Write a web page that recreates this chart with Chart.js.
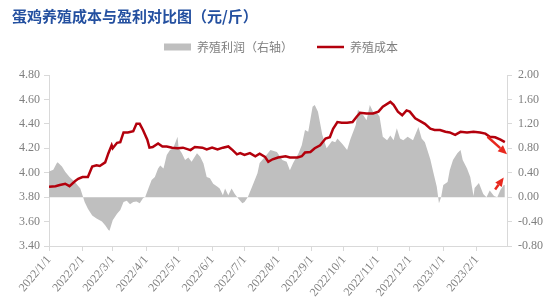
<!DOCTYPE html>
<html>
<head>
<meta charset="utf-8">
<script src="https://cdn.jsdelivr.net/npm/chart.js@4"></script>
<style>
  html, body { margin: 0; padding: 0; background: #fff; }
</style>
</head>
<body>
<canvas id="chart" width="550" height="308"></canvas>
<script>
// days counted from 2022/1/1
const tickDays = [0, 31, 59, 90, 120, 151, 181, 212, 243, 273, 304, 334, 365, 396];
const tickLabels = ["2022/1/1", "2022/2/1", "2022/3/1", "2022/4/1", "2022/5/1", "2022/6/1", "2022/7/1",
  "2022/8/1", "2022/9/1", "2022/10/1", "2022/11/1", "2022/12/1", "2023/1/1", "2023/2/1"];

const costDays = [0, 6, 10, 15, 19, 24, 27, 31, 36, 40, 44, 47, 52, 55, 58, 59, 63, 66, 69, 73, 78, 81, 84, 87,
  91, 93, 96, 101, 105, 109, 114, 119, 124, 131, 135, 142, 146, 151, 156, 161, 166, 170, 174, 177, 181, 186,
  191, 195, 200, 203, 207, 212, 219, 223, 230, 234, 237, 242, 246, 251, 256, 260, 263, 267, 271, 276, 281,
  285, 288, 294, 300, 305, 309, 316, 319, 323, 327, 331, 334, 339, 344, 348, 353, 357, 362, 367, 371, 376,
  381, 387, 393, 399, 404, 408, 413, 418, 422];
const costValues = [3.885, 3.89, 3.90, 3.91, 3.89, 3.93, 3.95, 3.965, 3.965, 4.05, 4.06, 4.055, 4.085, 4.16,
  4.225, 4.20, 4.245, 4.25, 4.33, 4.33, 4.34, 4.40, 4.40, 4.35, 4.27, 4.205, 4.21, 4.24, 4.215, 4.215, 4.205,
  4.20, 4.205, 4.185, 4.21, 4.205, 4.19, 4.205, 4.19, 4.205, 4.215, 4.185, 4.15, 4.16, 4.145, 4.16, 4.135,
  4.155, 4.13, 4.09, 4.11, 4.125, 4.135, 4.125, 4.125, 4.135, 4.165, 4.17, 4.20, 4.225, 4.28, 4.29, 4.36,
  4.415, 4.41, 4.41, 4.415, 4.46, 4.49, 4.485, 4.485, 4.50, 4.54, 4.58, 4.555, 4.50, 4.47, 4.51, 4.50, 4.445,
  4.42, 4.40, 4.36, 4.35, 4.35, 4.335, 4.33, 4.31, 4.335, 4.33, 4.335, 4.33, 4.32, 4.295, 4.29, 4.27, 4.25];

const profitDays = [0, 4, 7, 8, 12, 15, 19, 24, 29, 31, 33, 36, 40, 44, 49, 52, 55, 56, 59, 63, 66, 69, 72, 75,
  78, 81, 84, 87, 89, 92, 95, 98, 101, 103, 106, 109, 112, 115, 119, 120, 123, 126, 129, 132, 137, 140, 143,
  146, 149, 152, 156, 158, 161, 163, 166, 169, 172, 175, 179, 181, 184, 188, 193, 195, 200, 205, 211, 216,
  220, 223, 226, 231, 234, 237, 240, 244, 246, 249, 253, 257, 262, 265, 267, 272, 276, 279, 284, 286, 291,
  294, 297, 300, 304, 306, 309, 313, 316, 319, 322, 325, 328, 332, 337, 342, 345, 348, 353, 356, 359, 361,
  363, 365, 369, 371, 374, 378, 381, 383, 387, 390, 393, 394, 398, 402, 405, 408, 412, 415, 418, 421, 422];
const profitValues = [0.42, 0.45, 0.55, 0.57, 0.50, 0.415, 0.33, 0.25, 0.14, 0.03, -0.08, -0.19, -0.30, -0.35,
  -0.40, -0.46, -0.54, -0.55, -0.38, -0.27, -0.21, -0.08, -0.06, -0.115, -0.08, -0.07, -0.10, -0.02, 0.00,
  0.14, 0.28, 0.33, 0.47, 0.52, 0.47, 0.69, 0.77, 0.80, 0.99, 0.80, 0.72, 0.61, 0.65, 0.58, 0.72, 0.66, 0.55,
  0.33, 0.31, 0.22, 0.17, 0.14, 0.03, 0.14, 0.03, 0.14, 0.05, -0.02, -0.10, -0.08, 0.00, 0.17, 0.39, 0.56,
  0.66, 0.77, 0.74, 0.61, 0.58, 0.44, 0.56, 0.72, 0.85, 1.10, 1.07, 1.48, 1.51, 1.40, 1.02, 0.80, 0.92, 0.90,
  0.96, 0.86, 0.77, 0.95, 1.18, 1.43, 1.34, 1.26, 1.51, 1.40, 1.37, 1.32, 0.99, 0.93, 1.01, 0.93, 1.13, 0.96,
  0.93, 0.99, 0.93, 1.15, 0.96, 0.90, 0.62, 0.39, 0.17, -0.10, 0.00, 0.20, 0.25, 0.44, 0.61, 0.72, 0.77, 0.61,
  0.47, 0.33, 0.02, 0.15, 0.23, 0.05, 0.00, 0.11, 0.02, 0.00, 0.12, 0.20, 0.20];

// annotation arrows: [day, value] on the given axis
const arrows = [
  { axis: "y", from: [406, 4.294], to: [424, 4.152] },
  { axis: "y1", from: [413, 0.126], to: [421, 0.323] },
];

const GREY_TEXT = "#7f7f7f";
const AXIS_COLOR = "#d9d9d9";
const TICK_FONT = { family: "Liberation Serif", size: 12 };

const toPoints = (days, values) => days.map((d, i) => ({ x: d, y: values[i] }));
const fmt = (v) => (Math.abs(v) < 1e-9 ? 0 : v).toFixed(2);

// push the plot area down below the legend
const legendGap = {
  id: "legendGap",
  beforeInit(chart) {
    const fit = chart.legend.fit;
    chart.legend.fit = function () {
      fit.call(this);
      this.height += 12;
    };
  },
};

const arrowMarks = {
  id: "arrowMarks",
  afterDatasetsDraw(chart) {
    const { ctx, scales } = chart;
    ctx.save();
    ctx.strokeStyle = ctx.fillStyle = "#e8281e";
    ctx.lineWidth = 2.5;
    arrows.forEach((a) => {
      const ys = scales[a.axis];
      const x0 = scales.x.getPixelForValue(a.from[0]);
      const y0 = ys.getPixelForValue(a.from[1]);
      const x1 = scales.x.getPixelForValue(a.to[0]);
      const y1 = ys.getPixelForValue(a.to[1]);
      const ang = Math.atan2(y1 - y0, x1 - x0);
      const head = 9;
      const bx = x1 - head * Math.cos(ang);
      const by = y1 - head * Math.sin(ang);
      ctx.beginPath();
      ctx.moveTo(x0, y0);
      ctx.lineTo(bx, by);
      ctx.stroke();
      ctx.beginPath();
      ctx.moveTo(x1, y1);
      ctx.lineTo(bx + 4 * Math.sin(ang), by - 4 * Math.cos(ang));
      ctx.lineTo(bx - 4 * Math.sin(ang), by + 4 * Math.cos(ang));
      ctx.closePath();
      ctx.fill();
    });
    ctx.restore();
  },
};

const axisGrid = { drawOnChartArea: false, drawTicks: true, tickLength: 5, color: AXIS_COLOR };

new Chart(document.getElementById("chart"), {
  type: "line",
  data: {
    datasets: [
      {
        label: "养殖成本",
        data: toPoints(costDays, costValues),
        yAxisID: "y",
        borderColor: "#b3000c",
        backgroundColor: "#b3000c",
        borderWidth: 2.5,
        pointRadius: 0,
        pointStyle: "line",
        tension: 0,
      },
      {
        label: "养殖利润（右轴）",
        data: toPoints(profitDays, profitValues),
        yAxisID: "y1",
        borderWidth: 0,
        borderColor: "#bfbfbf",
        backgroundColor: "#bfbfbf",
        fill: "origin",
        pointRadius: 0,
        pointStyle: "rect",
        tension: 0,
      },
    ],
  },
  options: {
    responsive: false,
    animation: false,
    layout: { padding: { left: 12, right: 0, top: 0, bottom: 0 } },
    plugins: {
      title: {
        display: true,
        text: "蛋鸡养殖成本与盈利对比图（元/斤）",
        align: "start",
        color: "#2450a0",
        font: { family: "Noto Sans CJK SC", size: 15, weight: "bold", lineHeight: 1.2 },
        padding: { top: 7, bottom: -8 },
      },
      legend: {
        labels: {
          usePointStyle: true,
          pointStyleWidth: 27,
          boxHeight: 7,
          padding: 24,
          color: GREY_TEXT,
          font: { family: "Noto Sans CJK SC", size: 12 },
          sort: (a, b) => b.datasetIndex - a.datasetIndex,
        },
      },
      tooltip: { enabled: false },
    },
    scales: {
      x: {
        type: "linear",
        min: 0,
        max: 424,
        afterBuildTicks: (s) => {
          s.ticks = tickDays.map((v) => ({ value: v }));
        },
        afterFit: (s) => {
          s.height = 62;
        },
        grid: axisGrid,
        border: { color: AXIS_COLOR },
        ticks: {
          autoSkip: false,
          minRotation: 50,
          maxRotation: 50,
          padding: 2,
          color: GREY_TEXT,
          font: TICK_FONT,
          callback: (v, i) => tickLabels[i],
        },
      },
      y: {
        position: "left",
        min: 3.4,
        max: 4.8,
        afterFit: (s) => {
          s.width = 37;
        },
        grid: axisGrid,
        border: { color: AXIS_COLOR },
        ticks: { stepSize: 0.2, padding: 4, color: GREY_TEXT, font: TICK_FONT, callback: fmt },
      },
      y1: {
        position: "right",
        min: -0.8,
        max: 2.0,
        afterFit: (s) => {
          s.width = 43;
        },
        grid: axisGrid,
        border: { color: AXIS_COLOR },
        ticks: { stepSize: 0.4, padding: 6, color: GREY_TEXT, font: TICK_FONT, callback: fmt },
      },
    },
  },
  plugins: [legendGap, arrowMarks],
});
</script>
</body>
</html>
